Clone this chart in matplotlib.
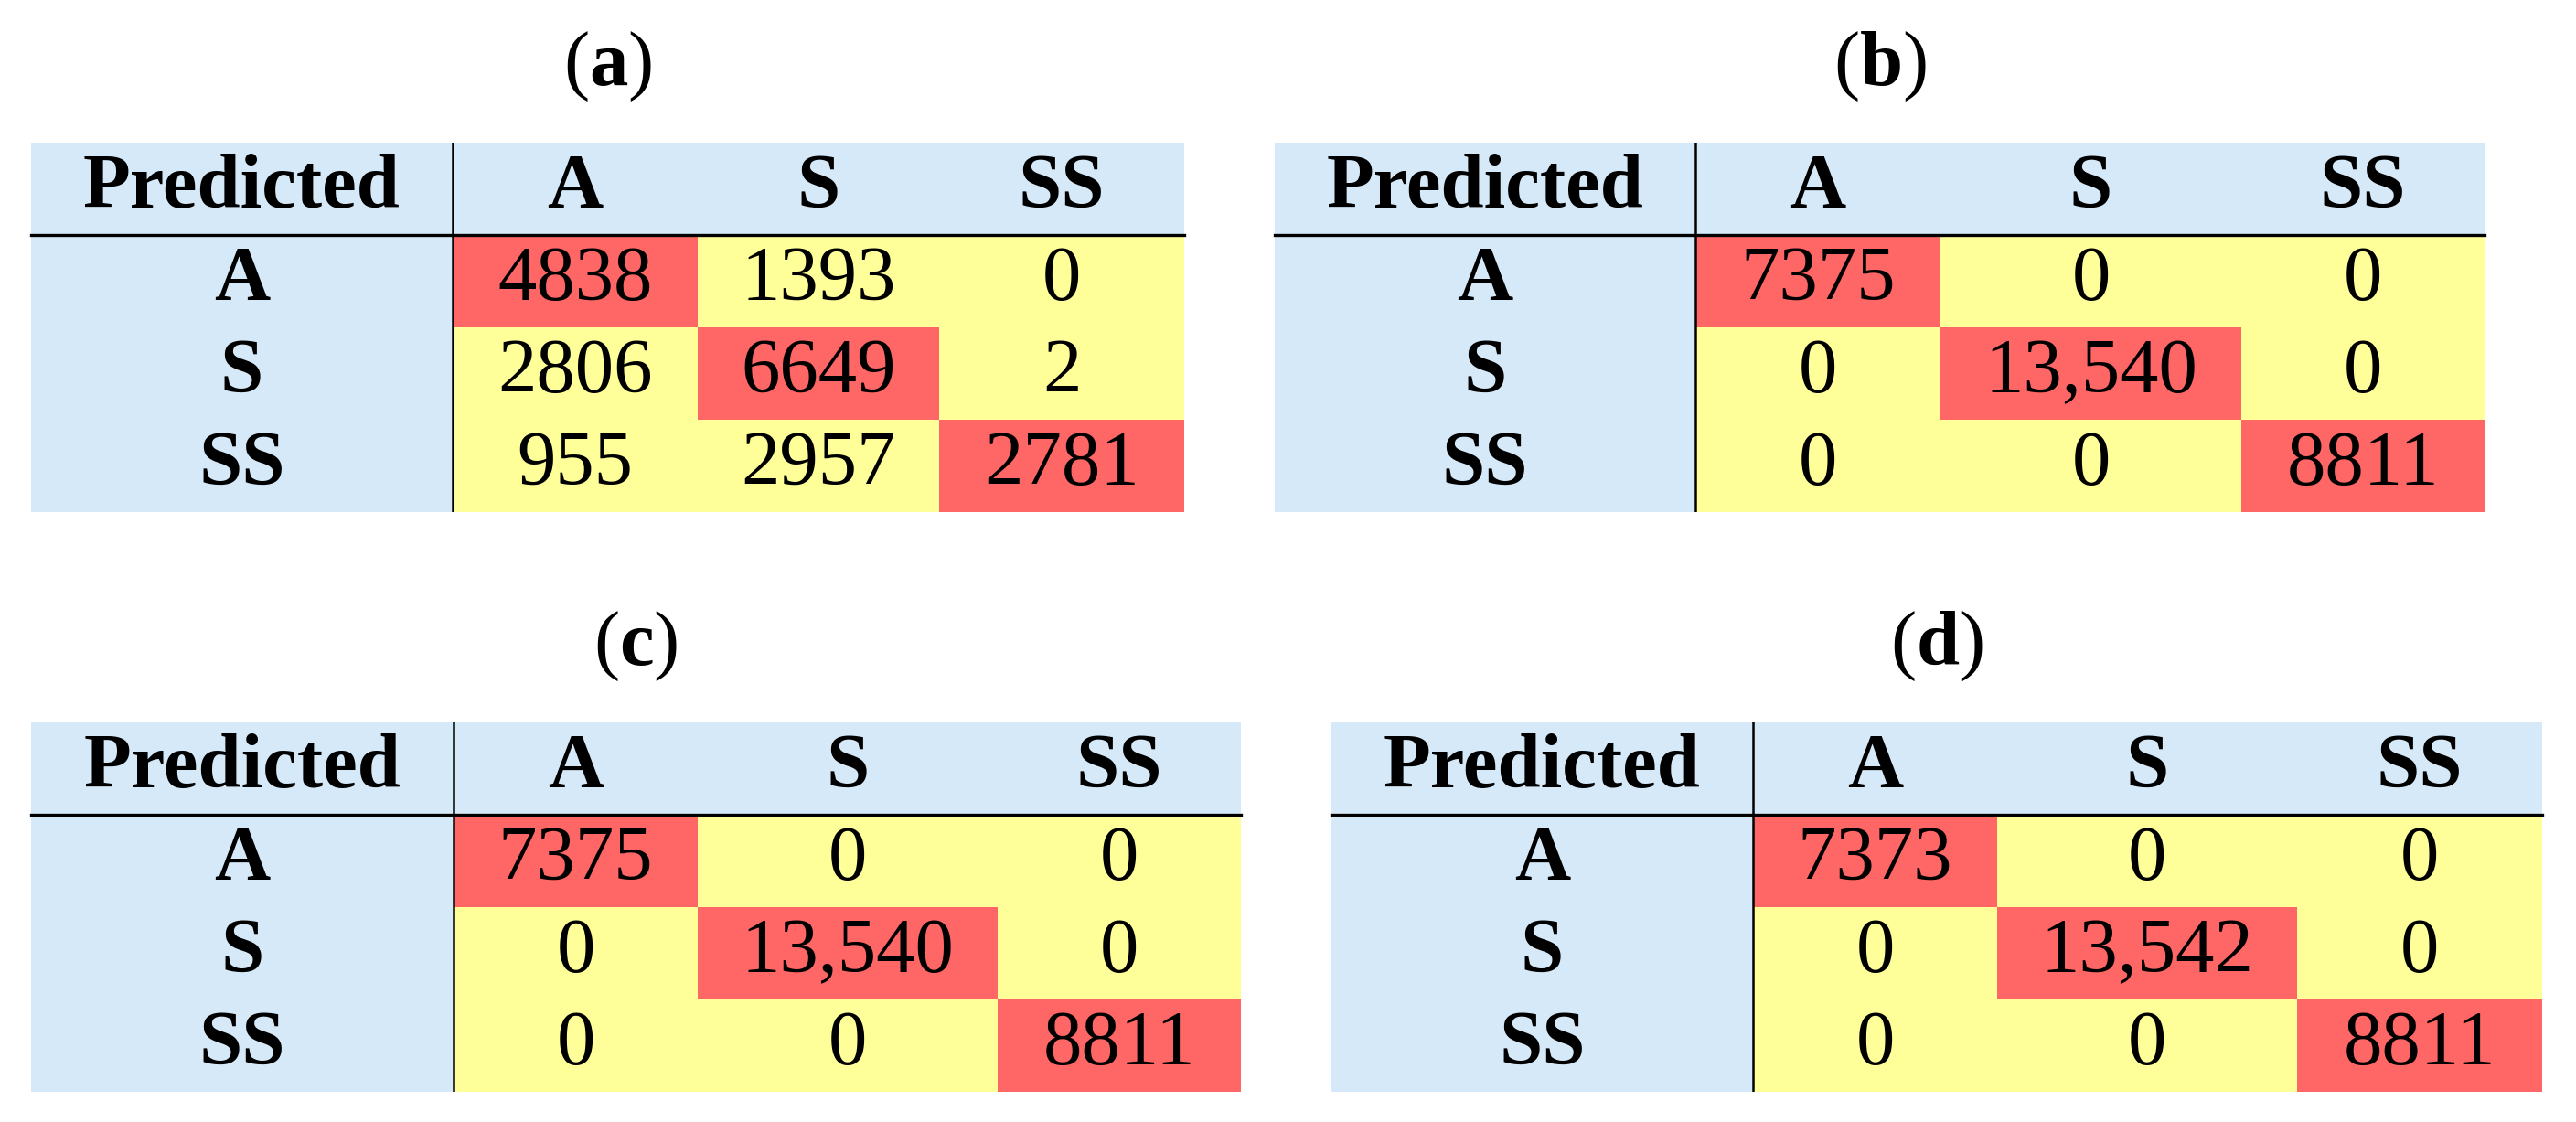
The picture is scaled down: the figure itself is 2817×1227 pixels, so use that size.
"""
Four confusion-matrix tables, (a)-(d), drawn as coloured cell grids.
"""

import matplotlib
matplotlib.use("Agg")
import matplotlib.pyplot as plt
from matplotlib.patches import Rectangle


# ─────────────────────────────────────────────
# data
# ─────────────────────────────────────────────

classes = ["A", "S", "SS"]
corner_label = "Predicted"
panel_labels = ["a", "b", "c", "d"]

cm_a = [[4838, 1393, 0],
        [2806, 6649, 2],
        [955, 2957, 2781]]
cm_b = [[7375, 0, 0],
        [0, 13540, 0],
        [0, 0, 8811]]
cm_c = [[7375, 0, 0],
        [0, 13540, 0],
        [0, 0, 8811]]
cm_d = [[7373, 0, 0],
        [0, 13542, 0],
        [0, 0, 8811]]

# ─────────────────────────────────────────────
# layout (pixels, figure is 2817 x 1227)
# ─────────────────────────────────────────────

W, H, DPI = 2817, 1227, 100
ROW_H = 101
TITLE_GAP = 93

# (left, top, column widths)
PANELS = [
    (34, 156, [461, 268, 264, 268]),
    (1394, 156, [460, 268, 329, 266]),
    (34, 790, [462, 267, 328, 266]),
    (1456, 790, [461, 267, 328, 268]),
]

BLUE = "#D6E9F8"
RED = "#FF6666"
YELLOW = "#FFFF99"
FONT = "Liberation Serif"
FS = 61

plt.rcParams["mathtext.fontset"] = "custom"
plt.rcParams["mathtext.rm"] = FONT
plt.rcParams["mathtext.bf"] = f"{FONT}:bold"


def fmt(v):
    return f"{v:,}" if v >= 10000 else str(v)


def draw_table(fig, left, top, widths, cm, label):
    total_w = sum(widths)
    n_rows = len(classes) + 1
    ax = fig.add_axes([left / W, 1 - (top + n_rows * ROW_H) / H,
                       total_w / W, n_rows * ROW_H / H])
    ax.set_xlim(0, total_w)
    ax.set_ylim(n_rows, 0)
    ax.axis("off")

    edges = [0]
    for w in widths:
        edges.append(edges[-1] + w)

    for r in range(n_rows):
        for c in range(len(widths)):
            if r == 0 or c == 0:
                color = BLUE
                text = corner_label if (r == 0 and c == 0) else classes[max(r, c) - 1]
                weight = "bold"
            else:
                color = RED if r == c else YELLOW
                text = fmt(cm[r - 1][c - 1])
                weight = "normal"
            ax.add_patch(Rectangle((edges[c], r), widths[c], 1,
                                   facecolor=color, edgecolor="none"))
            ax.text((edges[c] + edges[c + 1]) / 2, r + 0.70, text,
                    ha="center", va="baseline", fontsize=FS,
                    fontweight=weight, family=FONT)

    ax.axvline(edges[1], color="black", linewidth=1.8)
    ax.axhline(1, color="black", linewidth=2.4, clip_on=False)

    ax.text(0.5, 1 + TITLE_GAP / (n_rows * ROW_H), f"($\\mathbf{{{label}}}$)",
            transform=ax.transAxes, ha="center", va="center_baseline",
            fontsize=FS, family=FONT)
    return ax


fig = plt.figure(figsize=(W / DPI, H / DPI), dpi=DPI)
fig.patch.set_facecolor("white")

for (left, top, widths), cm, label in zip(PANELS, [cm_a, cm_b, cm_c, cm_d], panel_labels):
    draw_table(fig, left, top, widths, cm, label)

fig.savefig("out.png", dpi=DPI, facecolor="white")
